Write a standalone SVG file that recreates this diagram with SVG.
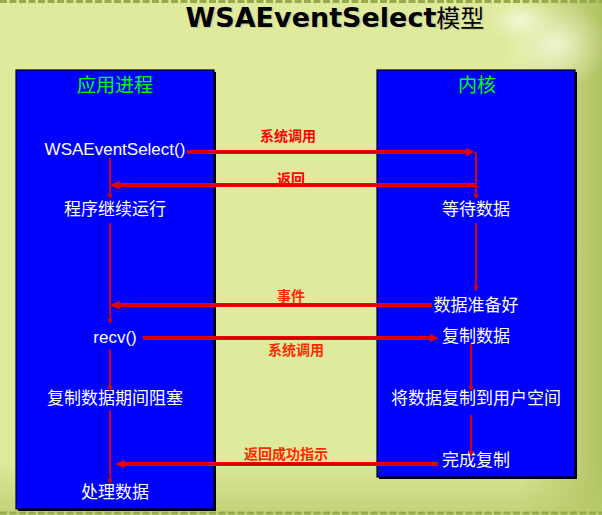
<svg xmlns="http://www.w3.org/2000/svg" width="602" height="515" viewBox="0 0 602 515">
<defs>
<style>
.lane{fill:#0000ff;stroke:#000;stroke-width:1.2}
.shadow{fill:#000}
.head{font-family:"Noto Sans CJK SC",sans-serif;font-size:19px;fill:#00ff00;text-anchor:middle}
.step{font-family:"Liberation Sans","Noto Sans CJK SC",sans-serif;font-size:17px;fill:#ffffff;text-anchor:middle}
.lbl{font-family:"Noto Sans CJK SC",sans-serif;font-size:14px;font-weight:bold;text-anchor:middle}
.thick{fill:none;stroke:#f00000;stroke-width:4}
.core{fill:none;stroke:#b00000;stroke-width:1.2}
.thin{fill:none;stroke:#d80000;stroke-width:2}
.ttl{font-family:"DejaVu Sans",sans-serif;font-weight:bold;font-size:27px}
.ttlcjk{font-family:"Noto Sans CJK SC",sans-serif;font-weight:normal;font-size:24px}
</style>
<marker id="ah" markerUnits="userSpaceOnUse" markerWidth="10" markerHeight="10" refX="0.5" refY="4.5" orient="auto">
<path d="M0,0 L9,4.5 L0,9 z" fill="#e80000"/>
</marker>
<marker id="ahs" markerUnits="userSpaceOnUse" markerWidth="7" markerHeight="7" refX="0.5" refY="3" orient="auto">
<path d="M0,0 L6,3 L0,6 z" fill="#d80000"/>
</marker>
<linearGradient id="gRight" x1="0" y1="0" x2="1" y2="0">
<stop offset="0" stop-color="#a8bc58" stop-opacity="0"/>
<stop offset="1" stop-color="#a8bc58" stop-opacity="0.85"/>
</linearGradient>
<linearGradient id="gBottom" x1="0" y1="0" x2="0" y2="1">
<stop offset="0" stop-color="#b9cb6c" stop-opacity="0"/>
<stop offset="1" stop-color="#b9cb6c" stop-opacity="0.8"/>
</linearGradient>
<radialGradient id="gFlower" cx="0.5" cy="0.5" r="0.5">
<stop offset="0" stop-color="#f6f8dc" stop-opacity="0.9"/>
<stop offset="1" stop-color="#eef3c4" stop-opacity="0"/>
</radialGradient>
</defs>

<g id="background">
<rect x="0" y="0" width="602" height="515" fill="#dfea9c"/>
<rect x="520" y="0" width="82" height="515" fill="url(#gRight)"/>
<rect x="0" y="460" width="602" height="55" fill="url(#gBottom)"/>
<ellipse cx="555" cy="45" rx="55" ry="45" fill="url(#gFlower)"/>
<ellipse cx="520" cy="20" rx="35" ry="22" fill="url(#gFlower)"/>
<line x1="0" y1="1.5" x2="602" y2="1.5" stroke="#98ab4c" stroke-width="3" stroke-dasharray="7 2.5"/>
<line x1="0" y1="513" x2="602" y2="513" stroke="#98ab4c" stroke-width="3" stroke-dasharray="7 2.5"/>
</g>

<g id="title">
<text class="ttl" x="187" y="28" fill="#c9cf9a">WSAEventSelect<tspan class="ttlcjk">模型</tspan></text>
<text class="ttl" x="185.5" y="26.5" fill="#000">WSAEventSelect<tspan class="ttlcjk">模型</tspan></text>
</g>

<g id="app-process">
<rect class="shadow" x="18" y="72" width="198" height="439"/>
<rect class="lane" x="16" y="70" width="198" height="439"/>
<text class="head" x="115" y="92">应用进程</text>
</g>

<g id="kernel">
<rect class="shadow" x="379" y="72" width="198" height="407"/>
<rect class="lane" x="377" y="70" width="198" height="407"/>
<text class="head" x="477" y="92">内核</text>
</g>

<g id="n-wsaeventselect"><text class="step" x="115" y="155">WSAEventSelect()</text></g>
<g id="n-continue"><text class="step" x="115" y="215">程序继续运行</text></g>
<g id="n-recv"><text class="step" x="115" y="343">recv()</text></g>
<g id="n-block"><text class="step" x="115" y="404">复制数据期间阻塞</text></g>
<g id="n-process"><text class="step" x="115" y="498">处理数据</text></g>

<g id="n-wait"><text class="step" x="476" y="215">等待数据</text></g>
<g id="n-ready"><text class="step" x="476" y="311">数据准备好</text></g>
<g id="n-copy"><text class="step" x="476" y="342">复制数据</text></g>
<g id="n-copy-user"><text class="step" x="476" y="404">将数据复制到用户空间</text></g>
<g id="n-done"><text class="step" x="476" y="466">完成复制</text></g>

<g id="connectors">
<path class="thick" d="M187,152 H466" marker-end="url(#ah)"/>
<path class="core" d="M187,152 H466"/>
<path class="thick" d="M476,185 H119" marker-end="url(#ah)"/>
<path class="core" d="M476,185 H119"/>
<path class="thick" d="M432,305 H119" marker-end="url(#ah)"/>
<path class="core" d="M432,305 H119"/>
<path class="thick" d="M143,338 H430" marker-end="url(#ah)"/>
<path class="core" d="M143,338 H430"/>
<path class="thick" d="M438,464 H124" marker-end="url(#ah)"/>
<path class="core" d="M438,464 H124"/>

<path class="thin" d="M110,158 V194" marker-end="url(#ahs)"/>
<path class="thin" d="M110,223 V319" marker-end="url(#ahs)"/>
<path class="thin" d="M110,349 V386" marker-end="url(#ahs)"/>
<path class="thin" d="M110,410 V479" marker-end="url(#ahs)"/>
<path class="thin" d="M476,152 V194" marker-end="url(#ahs)"/>
<path class="thin" d="M476,223 V286" marker-end="url(#ahs)"/>
<path class="thin" d="M471,344 V386" marker-end="url(#ahs)"/>
<path class="thin" d="M471,415 V451" marker-end="url(#ahs)"/>

<text class="lbl" x="288" y="141" fill="#ff0000">系统调用</text>
<text class="lbl" x="291" y="184" fill="#ff0000">返回</text>
<text class="lbl" x="291" y="301" fill="#ff2a00">事件</text>
<text class="lbl" x="296" y="355" fill="#ff2a00">系统调用</text>
<text class="lbl" x="286" y="459" fill="#ff2a00">返回成功指示</text>
</g>
</svg>
